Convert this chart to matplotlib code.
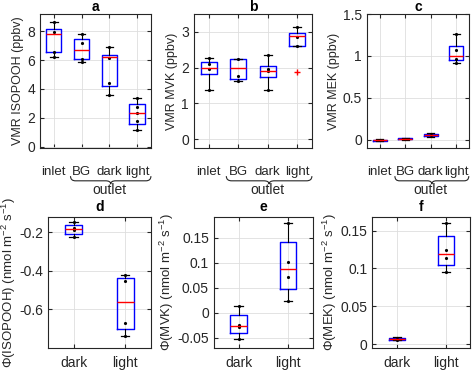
import matplotlib
matplotlib.use('Agg')
import matplotlib.pyplot as plt
from matplotlib.path import Path
from matplotlib.patches import PathPatch
from matplotlib.ticker import FormatStrFormatter

plt.rcParams['font.family'] = ['Liberation Sans', 'DejaVu Sans']
plt.rcParams['font.size'] = 10
plt.rcParams['mathtext.default'] = 'regular'

# ---- data ----
top_cats = ['inlet', 'BG', 'dark', 'light']
bot_cats = ['dark', 'light']

# VMR ISOPOOH (ppbv): whisker low, q1, median, q3, whisker high
iso_lo = [6.25, 5.9, 3.6, 1.15]
iso_q1 = [6.55, 6.05, 4.2, 1.6]
iso_med = [7.85, 6.7, 6.2, 2.35]
iso_q3 = [8.15, 7.5, 6.35, 2.95]
iso_hi = [8.65, 7.85, 6.9, 3.35]
iso_pts = [[6.25, 6.6, 7.95, 8.65], [5.9, 6.1, 7.2, 7.85],
           [3.6, 4.4, 6.15, 6.9], [1.15, 1.75, 2.35, 2.75, 3.35]]

# VMR MVK (ppbv)
mvk_lo = [1.36, 1.62, 1.36, 2.61]
mvk_q1 = [1.81, 1.68, 1.74, 2.61]
mvk_med = [1.99, 1.99, 1.91, 2.88]
mvk_q3 = [2.15, 2.23, 2.05, 2.98]
mvk_hi = [2.28, 2.23, 2.35, 3.14]
mvk_pts = [[1.36, 1.95, 2.1, 2.28], [1.62, 1.77, 2.23],
           [1.36, 1.91, 1.95, 2.35], [2.61, 2.86, 3.14]]
mvk_out = [[], [], [], [1.87]]

# VMR MEK (ppbv)
mek_lo = [-0.02, -0.005, 0.035, 0.92]
mek_q1 = [-0.012, 0.002, 0.048, 0.953]
mek_med = [-0.005, 0.008, 0.06, 1.0]
mek_q3 = [0.0, 0.015, 0.07, 1.12]
mek_hi = [0.008, 0.02, 0.085, 1.26]
mek_pts = [[-0.005], [0.008], [0.06], [0.92, 0.96, 1.07, 1.26]]

# fluxes (nmol m-2 s-1)
fiso_lo = [-0.222, -0.739]
fiso_q1 = [-0.207, -0.704]
fiso_med = [-0.184, -0.562]
fiso_q3 = [-0.162, -0.439]
fiso_hi = [-0.148, -0.422]
fiso_pts = [[-0.222, -0.19, -0.175, -0.148], [-0.739, -0.669, -0.453, -0.422]]

fmvk_lo = [-0.052, 0.023]
fmvk_q1 = [-0.041, 0.047]
fmvk_med = [-0.027, 0.087]
fmvk_q3 = [-0.005, 0.142]
fmvk_hi = [0.014, 0.18]
fmvk_pts = [[-0.052, -0.028, -0.025, 0.014], [0.023, 0.072, 0.102, 0.18]]

fmek_lo = [0.005, 0.095]
fmek_q1 = [0.006, 0.104]
fmek_med = [0.007, 0.119]
fmek_q3 = [0.008, 0.143]
fmek_hi = [0.009, 0.16]
fmek_pts = [[0.006, 0.007], [0.095, 0.1135, 0.124, 0.16]]

AXC = '#262626'


def make_stats(lo, q1, med, q3, hi, out=None):
    stats = []
    for i in range(len(lo)):
        stats.append(dict(whislo=lo[i], q1=q1[i], med=med[i], q3=q3[i],
                          whishi=hi[i], fliers=(out[i] if out else [])))
    return stats


def style(ax, title, tpad):
    ax.grid(True, color='#dedede', lw=0.6)
    ax.set_axisbelow(True)
    for s in ax.spines.values():
        s.set_color(AXC)
        s.set_linewidth(0.8)
    ax.tick_params(direction='in', length=3, colors=AXC, right=True, top=True,
                   labelsize=10)
    ax.yaxis.set_major_formatter(FormatStrFormatter('%g'))
    ax.set_title(title, fontweight='bold', fontsize=10, pad=tpad)


def draw(ax, stats, pts, width):
    n = len(stats)
    pos = list(range(1, n + 1))
    ax.bxp(stats, positions=pos, widths=width, capwidths=width * 0.5,
           showfliers=True,
           boxprops=dict(color='blue', lw=1),
           medianprops=dict(color='red', lw=1),
           whiskerprops=dict(color='black', lw=0.8),
           capprops=dict(color='black', lw=0.9),
           flierprops=dict(marker='+', markeredgecolor='red', markersize=5,
                           ls='none'))
    for i, p in enumerate(pts):
        ax.plot([pos[i]] * len(p), p, 'k.', markersize=2.5)
    ax.set_xlim(0.5, n + 0.5)


def brace(ax, x0, x1, y_end, y_mid, y_tip):
    xm = (x0 + x1) / 2
    d = 0.18
    verts = [(x0, y_end), (x0, y_mid), (x0 + d, y_mid), (xm - d, y_mid),
             (xm, y_mid), (xm, y_tip), (xm, y_mid), (xm + d, y_mid),
             (x1 - d, y_mid), (x1, y_mid), (x1, y_end)]
    codes = [Path.MOVETO, Path.CURVE3, Path.CURVE3, Path.LINETO,
             Path.CURVE3, Path.CURVE3, Path.CURVE3, Path.CURVE3,
             Path.LINETO, Path.CURVE3, Path.CURVE3]
    patch = PathPatch(Path(verts, codes), fill=False, lw=0.8, color=AXC,
                      transform=ax.get_xaxis_transform(), clip_on=False)
    ax.add_patch(patch)
    ax.text(3.0, -0.31, 'outlet', transform=ax.get_xaxis_transform(),
            ha='center', va='center', fontsize=10, color=AXC)


fig = plt.figure(figsize=(4.74, 3.70), dpi=100)

top_rects = [[0.0844, 0.60, 0.234, 0.362],
             [0.409, 0.60, 0.249, 0.362],
             [0.774, 0.60, 0.215, 0.362]]
bot_rects = [[0.101, 0.0595, 0.217, 0.354],
             [0.451, 0.0595, 0.209, 0.354],
             [0.785, 0.0595, 0.207, 0.354]]

# top row
top_data = [
    (make_stats(iso_lo, iso_q1, iso_med, iso_q3, iso_hi), iso_pts, 'a',
     'VMR ISOPOOH (ppbv)', (-0.1, 9.2), [0, 2, 4, 6, 8]),
    (make_stats(mvk_lo, mvk_q1, mvk_med, mvk_q3, mvk_hi, mvk_out), mvk_pts, 'b',
     'VMR MVK (ppbv)', (-0.25, 3.5), [0, 1, 2, 3]),
    (make_stats(mek_lo, mek_q1, mek_med, mek_q3, mek_hi), mek_pts, 'c',
     'VMR MEK (ppbv)', (-0.1, 1.5), [0, 0.5, 1, 1.5]),
]
for rect, (st, pts, title, ylab, ylim, yt) in zip(top_rects, top_data):
    ax = fig.add_axes(rect)
    draw(ax, st, pts, 0.55)
    style(ax, title, 2)
    ax.set_ylim(*ylim)
    ax.set_yticks(yt)
    ax.set_xticks([1, 2, 3, 4])
    ax.set_xticklabels(top_cats)
    ax.tick_params(axis='x', pad=13, labelsize=9.5)
    ax.set_ylabel(ylab, color=AXC, fontsize=9, labelpad=2)
    brace(ax, 1.6, 4.5, -0.21, -0.245, -0.27)

# bottom row
bot_data = [
    (make_stats(fiso_lo, fiso_q1, fiso_med, fiso_q3, fiso_hi), fiso_pts, 'd',
     r'$\Phi$(ISOPOOH) (nmol m$^{-2}$ s$^{-1}$)', (-0.8, -0.12), [-0.6, -0.4, -0.2]),
    (make_stats(fmvk_lo, fmvk_q1, fmvk_med, fmvk_q3, fmvk_hi), fmvk_pts, 'e',
     r'$\Phi$(MVK) (nmol m$^{-2}$ s$^{-1}$)', (-0.07, 0.191), [-0.05, 0, 0.05, 0.1, 0.15]),
    (make_stats(fmek_lo, fmek_q1, fmek_med, fmek_q3, fmek_hi), fmek_pts, 'f',
     r'$\Phi$(MEK) (nmol m$^{-2}$ s$^{-1}$)', (-0.005, 0.168), [0, 0.05, 0.1, 0.15]),
]
for rect, (st, pts, title, ylab, ylim, yt) in zip(bot_rects, bot_data):
    ax = fig.add_axes(rect)
    draw(ax, st, pts, 0.33)
    style(ax, title, 4)
    ax.set_ylim(*ylim)
    ax.set_yticks(yt)
    ax.set_xticks([1, 2])
    ax.set_xticklabels(bot_cats)
    ax.tick_params(axis='x', pad=6)
    ax.set_ylabel(ylab, color=AXC, fontsize=9.5, labelpad=1)

fig.savefig('out.png', dpi=100)
